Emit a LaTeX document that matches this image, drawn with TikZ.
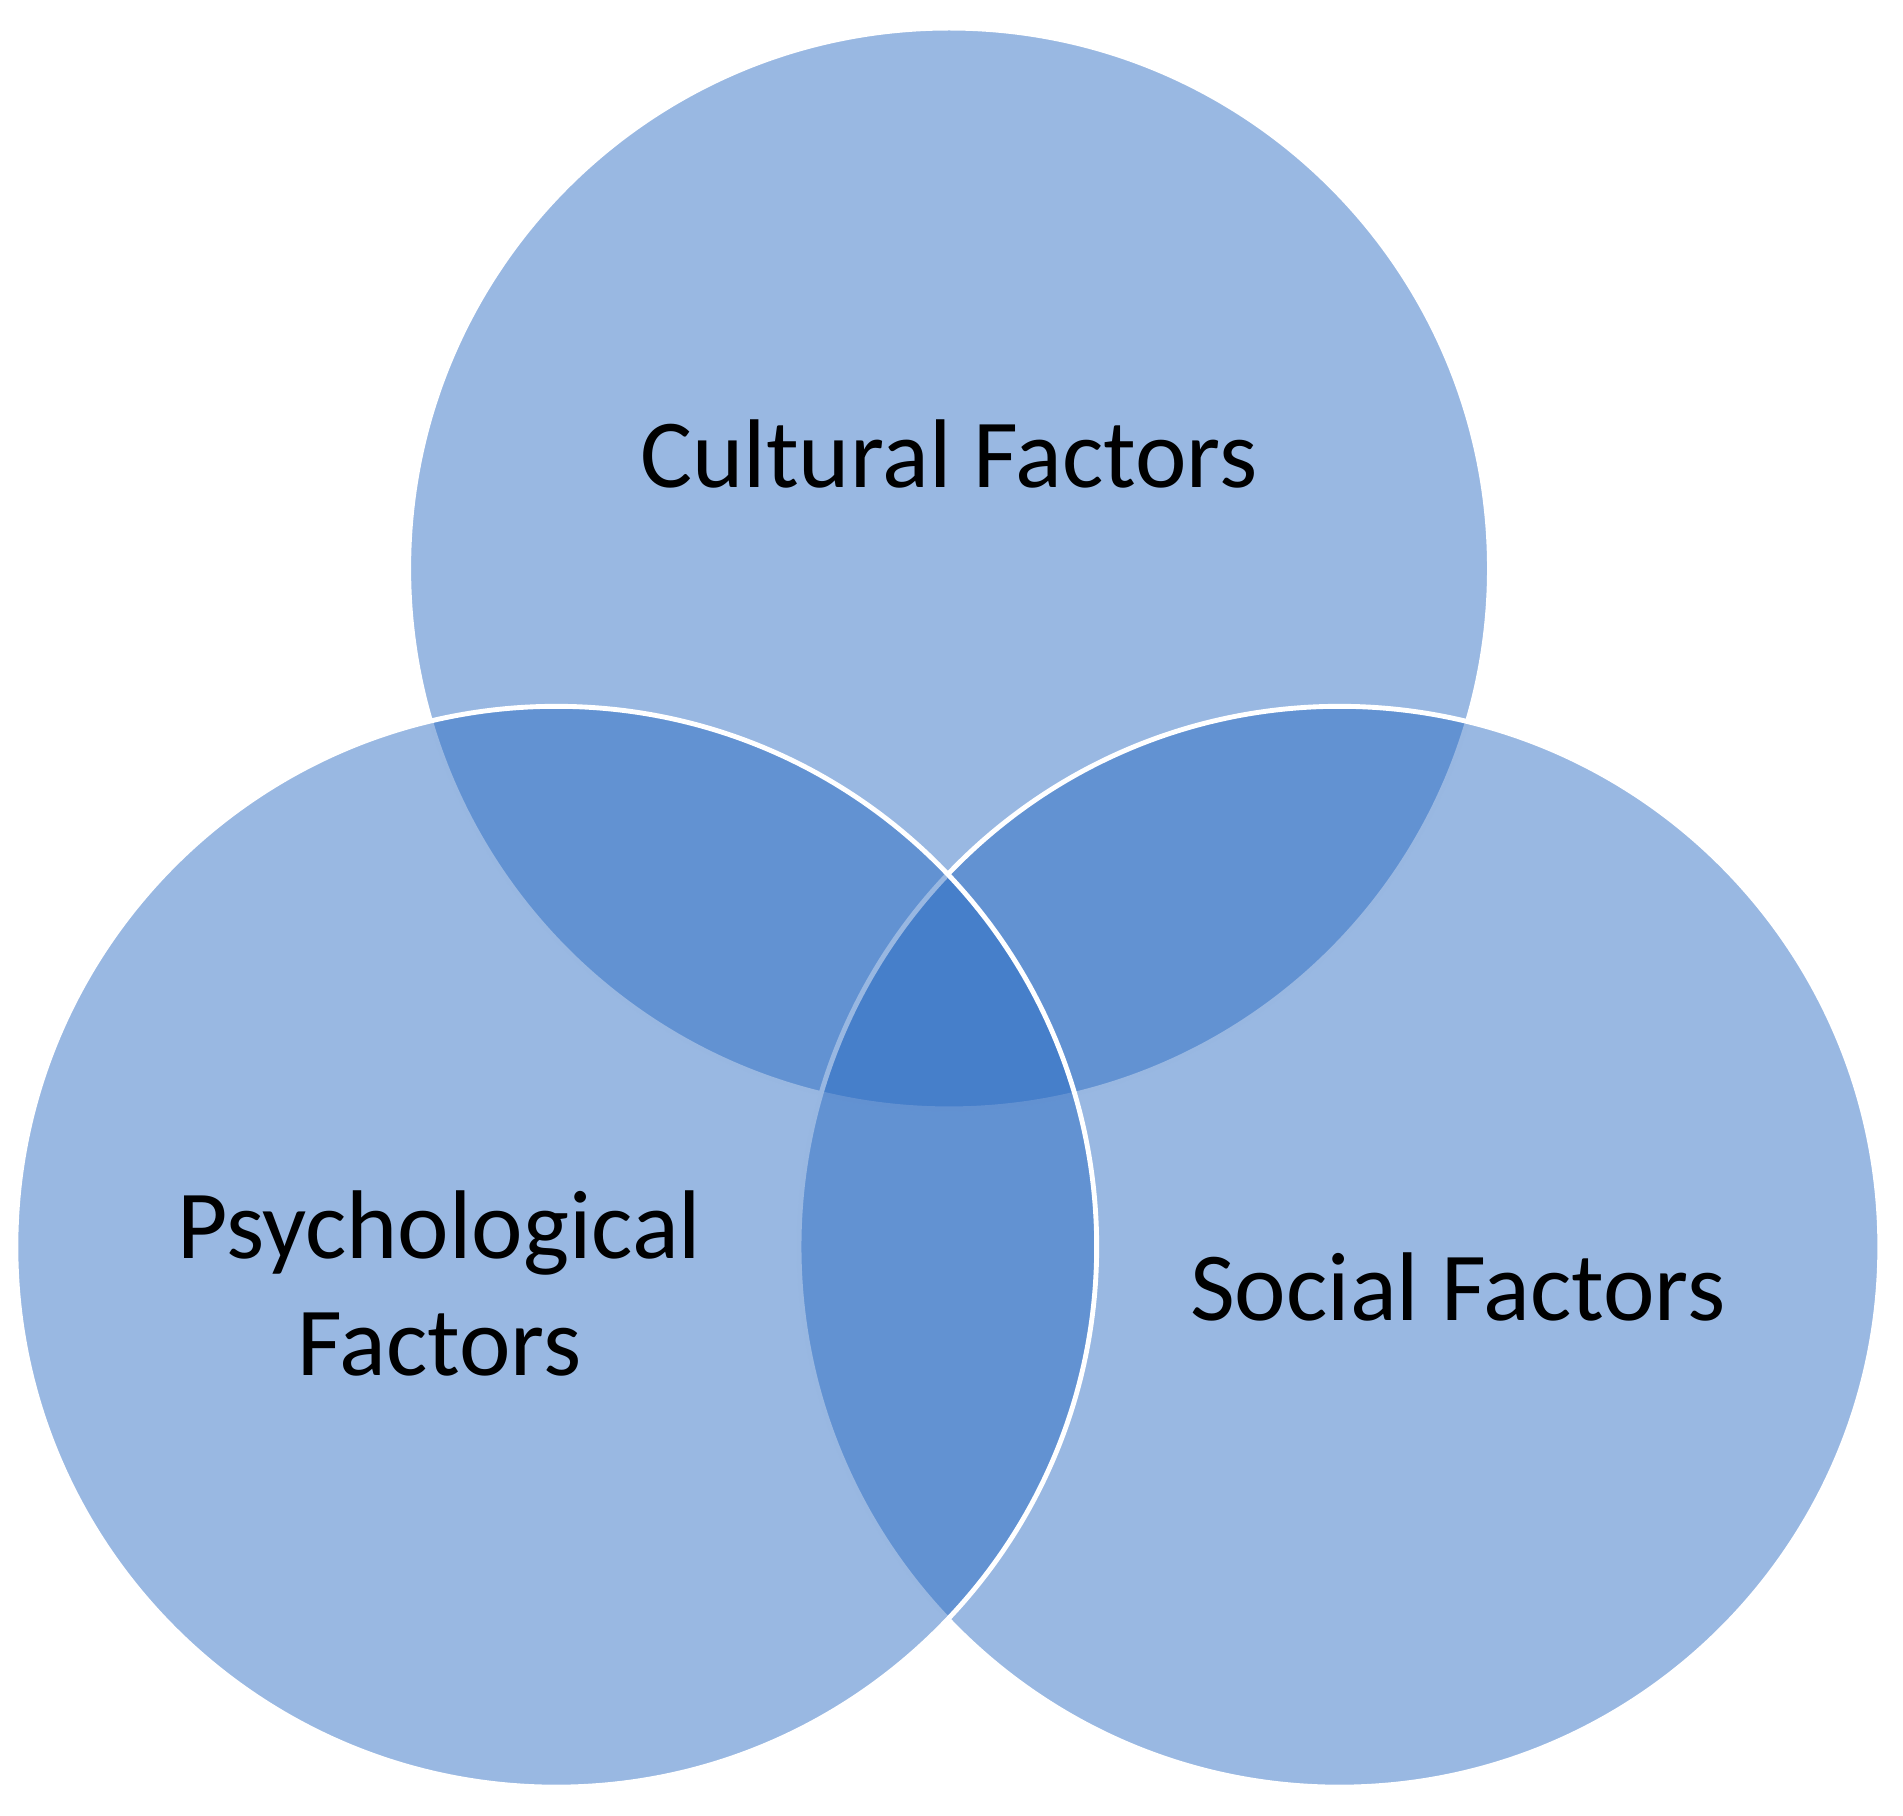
\documentclass[tikz,border=0pt]{standalone}
\usepackage{fontspec}
\setmainfont{Carlito}
\definecolor{vblue}{RGB}{38,104,193}
\begin{document}
\begin{tikzpicture}[x=1pt,y=-1pt,
  venn/.style={circle,minimum size=886pt,inner sep=0pt,fill=vblue,fill opacity=0.47,draw=white,draw opacity=1,line width=4pt},
  lab/.style={font=\fontsize{80}{96}\selectfont,align=center,text=black}]
\useasboundingbox (0,0) rectangle (1560,1488);
\node[venn] (top) at (778,466) {};
\node[venn] (right) at (1098,1022) {};
\node[venn] (left) at (456,1022) {};
\node[lab] (tc) at (778,372) {Cultural Factors};
\node[lab] (lc) at (360,1052) {Psychological\\Factors};
\node[lab] (rc) at (1195,1055) {Social Factors};
\end{tikzpicture}
\end{document}
